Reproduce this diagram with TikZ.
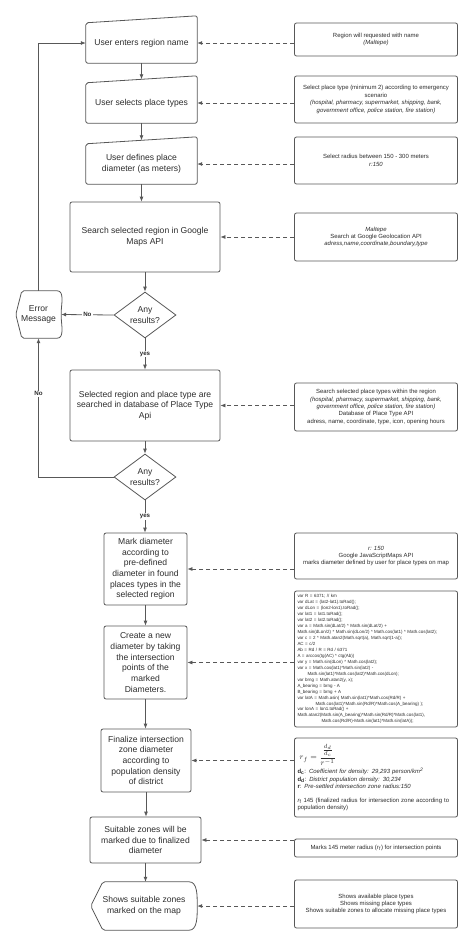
\documentclass[tikz,border=0pt]{standalone}
\usepackage{fontspec}
\setmainfont{Liberation Sans}
\usepackage{tikz}
\usetikzlibrary{calc, positioning, arrows.meta, shapes.geometric}
\definecolor{LineGrey}{RGB}{88,88,88}
\definecolor{TextGrey}{RGB}{45,45,45}

\begin{document}
\begin{tikzpicture}[
  x=1bp, y=-1bp,
  font=\fontsize{8.6}{10.7}\selectfont, text=TextGrey,
  shapeline/.style={draw=LineGrey, line width=0.8bp, rounded corners=2bp},
  flowbox/.style={shapeline, align=center, inner sep=1bp},
  plainbox/.style={align=center, inner sep=1bp},
  decision/.style={diamond, draw=LineGrey, line width=0.8bp, align=center,
    inner sep=0pt, aspect=1.35, minimum width=62bp, minimum height=46bp},
  note/.style={shapeline, align=center, minimum width=163bp, inner sep=2bp,
    font=\fontsize{6}{7.4}\selectfont},
  link/.style={draw=LineGrey, line width=0.8bp, -{Latex[length=5bp,width=4bp]}},
  hint/.style={link, dash pattern=on 4bp off 3bp},
  lbl/.style={font=\fontsize{6.2}{7}\selectfont\bfseries, fill=white, inner sep=1bp}
]
\fill[white] (0,0) rectangle (474,946);

\node[plainbox, minimum width=111bp, minimum height=40bp] (b1) at (141.5,43) {User enters region name};
\node[plainbox, minimum width=111bp, minimum height=40bp] (b2) at (141.5,103) {User selects place types};
\node[plainbox, minimum width=111bp, minimum height=40bp] (b3) at (141.5,164) {User defines place\\diameter (as meters)};
\foreach \n in {b1,b2,b3}
  \draw[shapeline] (\n.south west) -- (\n.north west) -- ([yshift=7bp]\n.north east) -- (\n.south east) -- cycle;

\node[flowbox, minimum width=150bp, minimum height=70bp] (b4) at (145,237) {Search selected region in Google\\Maps API};
\node[decision] (d1) at (145,315) {Any\\results?};
\node[plainbox, minimum width=45bp, minimum height=47bp] (err) at (38.5,314.5) {Error\\Message};
\draw[shapeline] (err.west) -- ([xshift=6bp]err.north west) -- ([xshift=-6bp]err.north east)
  to[out=0,in=90] (err.east) to[out=-90,in=0] ([xshift=-6bp]err.south east)
  -- ([xshift=6bp]err.south west) -- cycle;
\node[flowbox, minimum width=150bp, minimum height=71bp] (b5) at (145,405.5) {Selected region and place type are\\searched in database of Place Type\\Api};
\node[decision] (d2) at (145,477) {Any\\results?};
\node[flowbox, minimum width=83bp, minimum height=72bp] (b6) at (145.5,569) {Mark diameter\\according to\\pre-defined\\diameter in found\\places types in the\\selected region};
\node[flowbox, minimum width=83bp, minimum height=73bp] (b7) at (145.5,662.5) {Create a new\\diameter by taking\\the intersection\\points of the\\marked\\Diameters.};
\node[flowbox, minimum width=90bp, minimum height=63bp] (b8) at (146,760.5) {Finalize intersection\\zone diameter\\according to\\population density\\of district};
\node[flowbox, minimum width=111bp, minimum height=46bp] (b9) at (145.5,840) {Suitable zones will be\\marked due to finalized\\diameter};
\node[plainbox, minimum width=106bp, minimum height=48bp] (b10) at (144,906) {Shows suitable zones\\marked on the map};
\draw[shapeline] (b10.west) -- ([xshift=12bp]b10.north west) -- ([xshift=-10bp]b10.north east)
  to[out=0,in=90] (b10.east) to[out=-90,in=0] ([xshift=-10bp]b10.south east)
  -- ([xshift=12bp]b10.south west) -- cycle;

\node[note, minimum height=33bp] (n1) at (376,39.5) {Region will requested with name\\\textit{(Maltepe)}};
\node[note, minimum height=47bp] (n2) at (376,99.5) {Select place type (minimum 2) according to emergency\\scenario\\\textit{(hospital, pharmacy, supermarket, shipping, bank,}\\\textit{government office, police station, fire station)}};
\node[note, minimum height=47bp] (n3) at (376,160.5) {Select radius between 150 - 300 meters\\\textit{r:150}};
\node[note, minimum height=48bp] (n4) at (376,237) {\textit{Maltepe}\\Search at Google Geolocation API\\\textit{adress,name,coordinate,boundary,type}};
\node[note, minimum height=48bp] (n5) at (376,407) {Search selected place types within the region\\\textit{(hospital, pharmacy, supermarket, shipping, bank,}\\\textit{government office, police station, fire station)}\\Database of Place Type API\\adress, name, coordinate, type, icon, opening hours};
\node[note, minimum height=46bp] (n6) at (376,556) {\textit{r: 150}\\Google JavaScriptMaps API\\marks diameter defined by user for place types on map};
\node[note, minimum height=136bp, text width=157bp, align=left, font=\fontsize{4.5}{6}\selectfont] (n7) at (376,659) {%
var R = 6371; // km\\
var dLat = (lat2-lat1).toRad();\\
var dLon = (lon2-lon1).toRad();\\
var lat1 = lat1.toRad();\\
var lat2 = lat2.toRad();\\
var a = Math.sin(dLat/2) * Math.sin(dLat/2) +\\
Math.sin(dLon/2) * Math.sin(dLon/2) * Math.cos(lat1) * Math.cos(lat2);\\
var c = 2 * Math.atan2(Math.sqrt(a), Math.sqrt(1-a));\\
AC = c/2\\
Ab = Rd / R = Rd / 6371\\
A = arccos(tg(AC) * ctg(Ab))\\
var y = Math.sin(dLon) * Math.cos(lat2);\\
var x = Math.cos(lat1)*Math.sin(lat2) -\\
\hspace*{10bp}Math.sin(lat1)*Math.cos(lat2)*Math.cos(dLon);\\
var brng = Math.atan2(y, x);\\
A\_bearing = brng - A\\
B\_bearing = brng + A\\
var latA = Math.asin( Math.sin(lat1)*Math.cos(Rd/R) +\\
\hspace*{18bp}Math.cos(lat1)*Math.sin(Rd/R)*Math.cos(A\_bearing) );\\
var lonA = lon1.toRad() +\\
Math.atan2(Math.sin(A\_bearing)*Math.sin(Rd/R)*Math.cos(lat1),\\
\hspace*{24bp}Math.cos(Rd/R)-Math.sin(lat1)*Math.sin(latA));};
\node[note, minimum height=79bp, text width=157bp, align=left] (n8) at (376,777.5) {%
\hspace*{2bp}{\fontsize{8.5}{9}\selectfont$\displaystyle r_f=\frac{\frac{d_d}{d_c}}{r^{-1}}$}\\[1bp]
\textbf{d}\textsubscript{\textbf{c}}: \textit{Coefficient for density: 29,293 person/km\textsuperscript{2}}\\
\textbf{d}\textsubscript{\textbf{d}}: \textit{District population density: 30,234}\\
\textbf{r}: \textit{Pre-settled intersection zone radius:150}\\[6bp]
\textit{r}\textsubscript{f} 145 (finalized radius for intersection zone according to\\
population density)};
\node[note, minimum height=18bp] (n9) at (376,848) {Marks 145 meter radius (\textit{r}\textsubscript{f}) for intersection points};
\node[note, minimum height=48bp] (n10) at (376,904) {Shows available place types\\Shows missing place types\\Shows suitable zones to allocate missing place types};

\draw[link] (b1.south) -- ([yshift=3.5bp]b2.north);
\draw[link] (b2.south) -- ([yshift=3.5bp]b3.north);
\draw[link] (b3.south) -- (b3.south |- b4.north);
\draw[link] (b4.south) -- (d1.north);
\draw[link] (d1.west) -- (err.east) node[lbl, midway] {No};
\draw[link] (d1.south) -- (b5.north) node[lbl, midway] {yes};
\draw[link] (err.north) |- (b1.west);
\draw[link] (b5.south) -- (d2.north);
\draw[link] (d2.west) -| (err.south) node[lbl, pos=0.8] {No};
\draw[link] (d2.south) -- (d2.south |- b6.north) node[lbl, midway] {yes};
\draw[link] (b6.south) -- (b7.north);
\draw[link] (b7.south) -- (b7.south |- b8.north);
\draw[link] (b8.south) -- (b8.south |- b9.north);
\draw[link] (b9.south) -- (b9.south |- b10.north);

\draw[hint] (n1.west |- b1.east) -- (b1.east);
\draw[hint] (n2.west |- b2.east) -- (b2.east);
\draw[hint] (n3.west |- b3.east) -- (b3.east);
\draw[hint] (n4.west |- b4.east) -- (b4.east);
\draw[hint] (n5.west |- b5.east) -- (b5.east);
\draw[hint] (n6.west |- b6.east) -- (b6.east);
\draw[hint] (n7.west |- b7.east) -- (b7.east);
\draw[hint] (n8.west |- b8.east) -- (b8.east);
\draw[hint] (n9.west |- b9.east) -- (b9.east);
\draw[hint] (n10.west |- b10.east) -- (b10.east);
\end{tikzpicture}
\end{document}
